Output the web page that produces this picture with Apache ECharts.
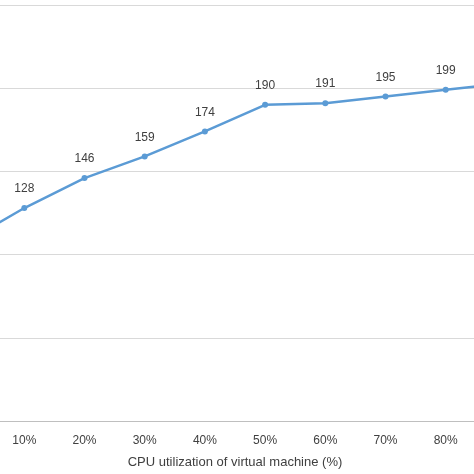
<!DOCTYPE html>
<html><head><meta charset="utf-8">
<script src="https://cdn.jsdelivr.net/npm/echarts@6/dist/echarts.min.js"></script>
<style>html,body{margin:0;padding:0;background:#fff;overflow:hidden;width:474px;height:474px}#c{position:absolute;left:-66px;top:0;width:602px;height:474px}</style>
</head><body><div id="c"></div>
<script>
const categories = ['0%','10%','20%','30%','40%','50%','60%','70%','80%','90%'];
const values = [107,128,146,159,174,190,191,195,199,203];
const yTicks = [0,50,100,150,200,250];
const labelShown = [false,true,true,true,true,true,true,true,true,false];

const chart = echarts.init(document.getElementById('c'));
chart.setOption({
  animation:false,
  grid:{left:0,right:0,top:5,bottom:48,containLabel:false},
  xAxis:{type:'category',data:categories,boundaryGap:true,
    name:'CPU utilization of virtual machine (%)',nameLocation:'middle',nameGap:35,
    nameTextStyle:{color:'#404040',fontSize:13,fontFamily:'Liberation Sans',padding:[0,0,0,0]},
    axisLine:{lineStyle:{color:'#bfbfbf'}},axisTick:{show:false},
    axisLabel:{color:'#404040',fontSize:12,fontFamily:'Liberation Sans',margin:14}},
  yAxis:{type:'value',min:yTicks[0],max:yTicks[yTicks.length-1],interval:50,
    axisLabel:{show:false},axisLine:{show:false},axisTick:{show:false},
    splitLine:{lineStyle:{color:'#d9d9d9'}}},
  series:[{type:'line',data:values,symbol:'circle',symbolSize:6,
    lineStyle:{color:'#5b9bd5',width:2.5},itemStyle:{color:'#5b9bd5'},
    label:{show:true,position:'top',distance:10,color:'#404040',fontSize:12,fontFamily:'Liberation Sans',
      formatter:p=>labelShown[p.dataIndex]?String(p.value):''}}]
});
</script></body></html>
